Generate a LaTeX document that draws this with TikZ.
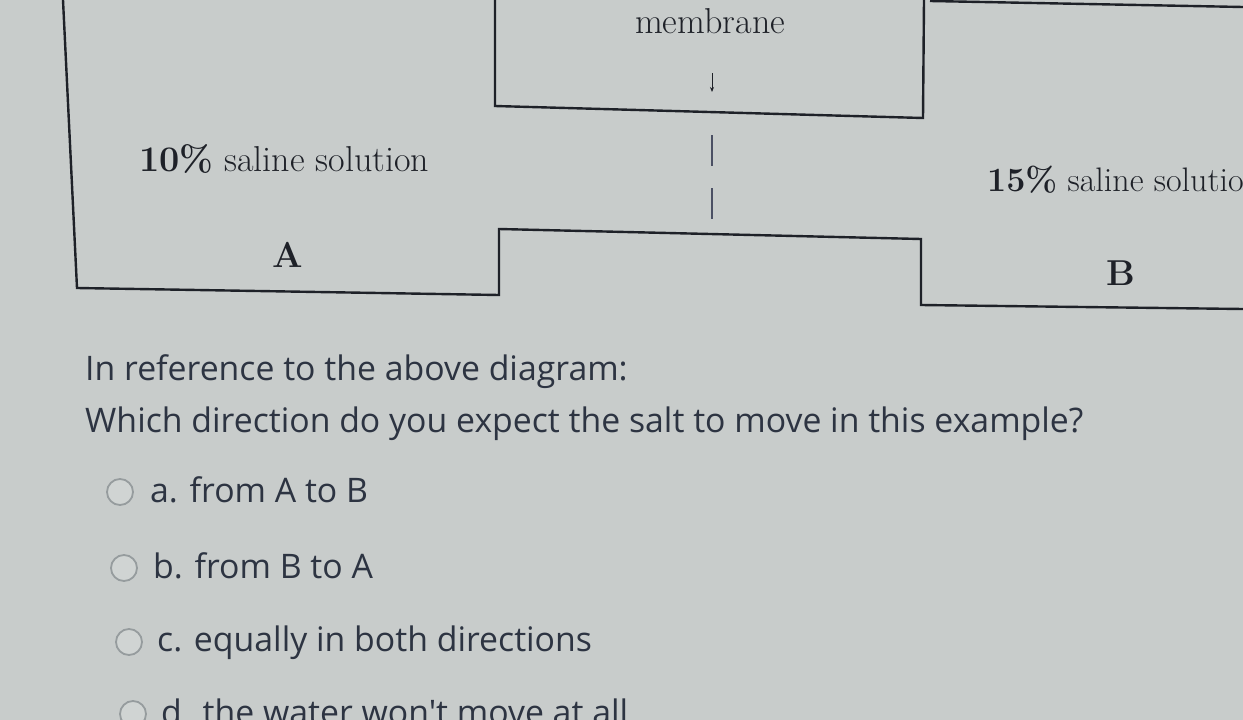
\documentclass[tikz,border=0pt]{standalone}
\usepackage{fontspec}
\newfontfamily\quizfont{Open Sans}
\usetikzlibrary{arrows.meta}
\definecolor{screen}{RGB}{200,204,203}
\definecolor{ink}{RGB}{30,33,40}
\definecolor{quiztext}{RGB}{45,52,66}
\definecolor{radio}{RGB}{150,156,158}
\definecolor{dashcol}{RGB}{75,80,100}
\tikzset{
	wall/.style={line width=2.4pt, color=ink},
	saltlabel/.style={font=\fontsize{36}{42}\selectfont, text=ink, inner sep=0pt},
	quiz/.style={font=\quizfont\fontsize{33.8}{40}\selectfont, text=quiztext, inner sep=0pt, anchor=base west},
	radiobtn/.style={draw=radio, line width=1.8pt, fill=screen!85!white}
}

\begin{document}
\begin{tikzpicture}[x=1pt,y=-1pt]
			%%%%% START %%%%%
			
			\useasboundingbox (0,0) rectangle (1243,720);
			\clip (0,0) rectangle (1243,720);
			\fill[screen] (0,0) rectangle (1243,720);
			
			% vessel A, channel and vessel B
			\draw[wall] (63,0) -- (77,288) -- (499,295) -- (499,229) -- (921,239) -- (921,305) -- (1243,309);
			
			% membrane box
			\draw[wall] (495,0) -- (495,106) -- (923,118) -- (924,0);
			\draw[wall] (930,1) -- (1243,7);
			
			\draw[-{Stealth[length=5pt,width=4pt]}, line width=1pt, color=ink] (712,73) -- (712,92);
			\draw[line width=2pt, color=dashcol] (712,135) -- (712,166);
			\draw[line width=2pt, color=dashcol] (712,188) -- (712,219);
			
			\node[saltlabel, anchor=base] (mem) at (710,33) {membrane};
			\node[saltlabel, anchor=base west] (solA) at (139,171) {\textbf{10\%} saline solution};
			\node[saltlabel, anchor=base, font=\fontsize{36}{42}\selectfont\bfseries] (tagA) at (288,267) {A};
			\node[saltlabel, anchor=base west, font=\fontsize{34}{40}\selectfont] (solB) at (987,191) {\textbf{15\%} saline solution};
			\node[saltlabel, anchor=base, font=\fontsize{36}{42}\selectfont\bfseries] (tagB) at (1121,285) {B};
			
			% question
			\node[quiz] (intro) at (85,380) {In reference to the above diagram:};
			\node[quiz] (ask) at (85,432) {Which direction do you expect the salt to move in this example?};
			
			\draw[radiobtn] (120,492) circle (13);
			\node[quiz] (optA) at (150,502) {a. from A to B};
			\draw[radiobtn] (124,568) circle (13);
			\node[quiz] (optB) at (153,578) {b. from B to A};
			\draw[radiobtn] (129,642) circle (13);
			\node[quiz] (optC) at (157,651) {c. equally in both directions};
			\draw[radiobtn] (133,714) circle (13);
			\node[quiz] (optD) at (161,724) {d. the water won't move at all};
			
			%%%%% END %%%%%
\end{tikzpicture}
\end{document}
